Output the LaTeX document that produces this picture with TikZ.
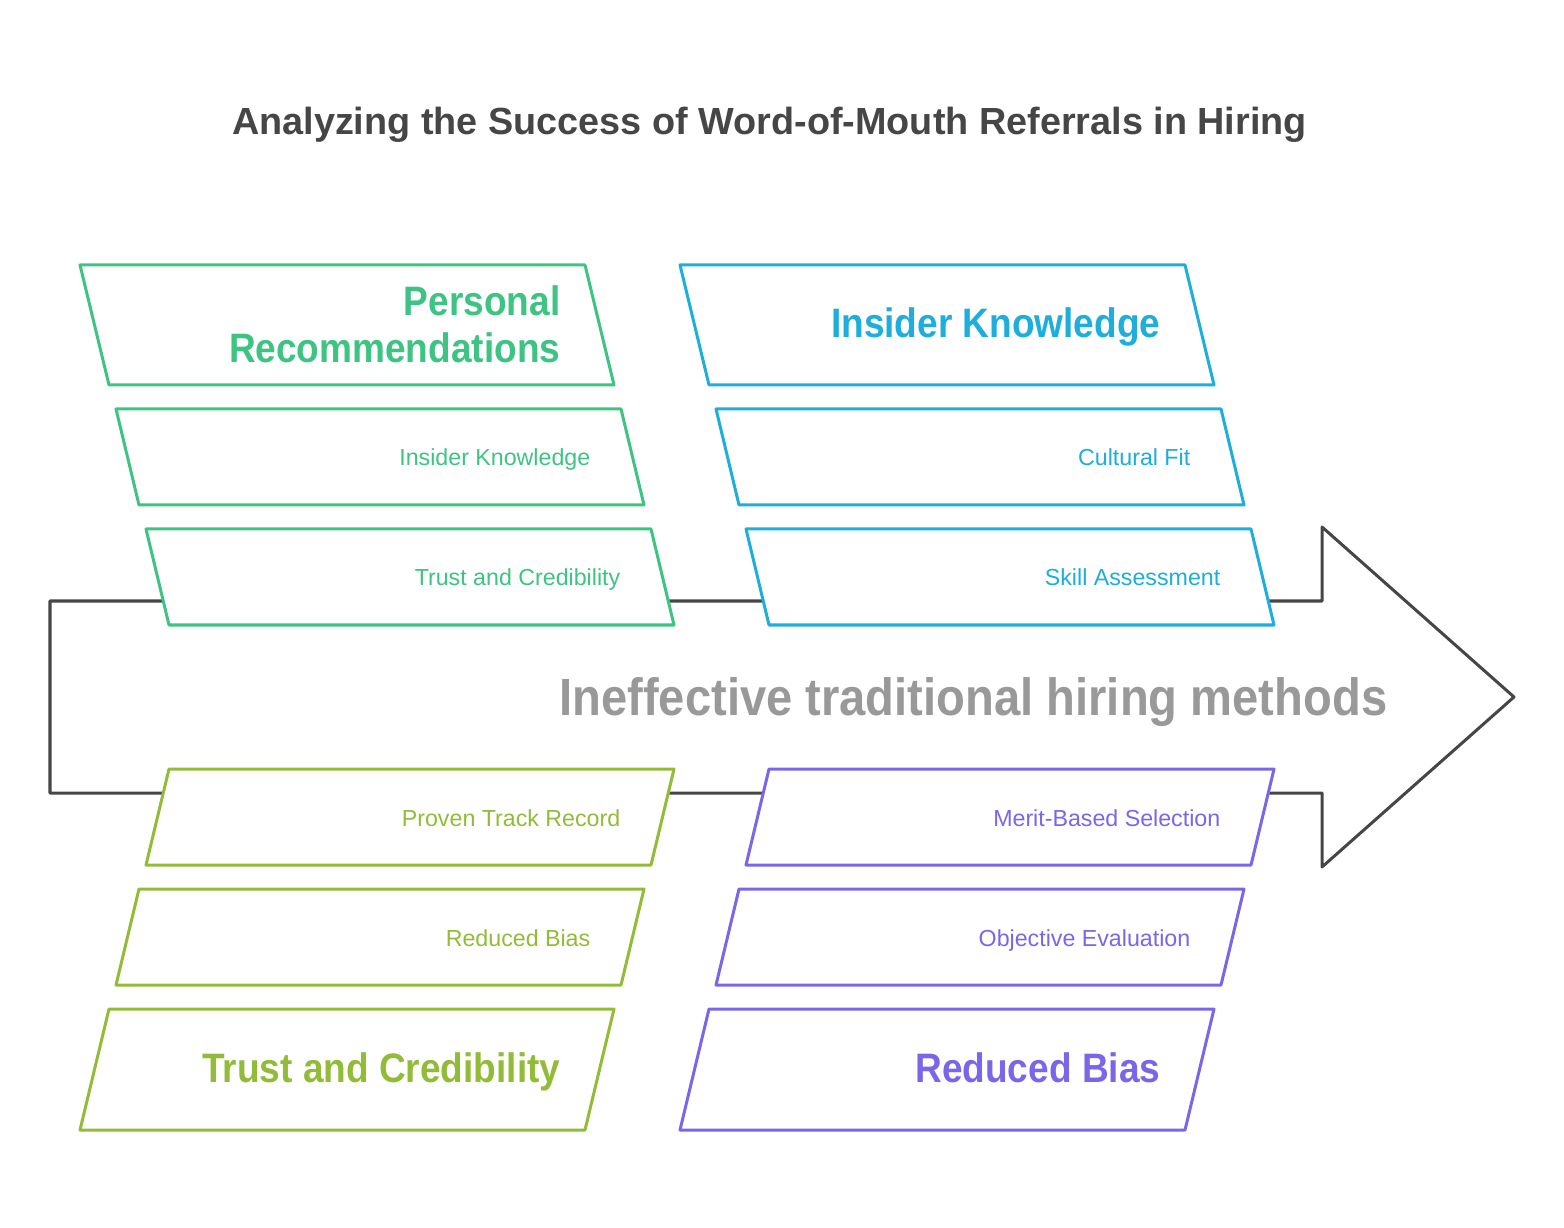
\documentclass[tikz,border=0pt]{standalone}
\usepackage{fontspec}
\setmainfont{Liberation Sans}
\newfontfamily\headfont[FakeStretch=0.9]{Liberation Sans}
\usetikzlibrary{positioning}
\definecolor{leafgreen}{RGB}{61,196,130}
\definecolor{skyblue}{RGB}{30,174,219}
\definecolor{olivegreen}{RGB}{146,188,55}
\definecolor{lavender}{RGB}{123,102,232}
\definecolor{darkline}{RGB}{70,70,70}
\definecolor{midgray}{RGB}{153,153,153}

\begin{document}
\begin{tikzpicture}[x=0.01cm, y=-0.01cm,
    pbox/.style={line width=0.03cm, fill=white, line join=round},
    head/.style={font=\headfont\bfseries\fontsize{11.7}{13.4}\selectfont, inner sep=0pt, align=right},
    item/.style={font=\fontsize{6.6}{8}\selectfont, inner sep=0pt}
  ]
    \useasboundingbox (0,0) rectangle (1564,1228);

    \node[font=\bfseries\fontsize{10.75}{13}\selectfont, text=darkline, inner sep=0pt, anchor=base] (title) at (769.5,135) {Analyzing the Success of Word-of-Mouth Referrals in Hiring};

    % big arrow
    \draw[darkline, line width=0.03cm, line join=round] (50,601) -- (1322,601) -- (1322,527) -- (1514,697) -- (1322,867) -- (1322,793) -- (50,793) -- cycle;
    \node[font=\headfont\bfseries\fontsize{14.9}{17}\selectfont, text=midgray, inner sep=0pt, anchor=base east] (core) at (1388,715) {Ineffective traditional hiring methods};

    % upper left
    \draw[pbox, draw=leafgreen] (80,265) -- (585,265) -- (614,385) -- (109,385) -- cycle;
    \draw[pbox, draw=leafgreen] (116,409) -- (621,409) -- (644,505) -- (139,505) -- cycle;
    \draw[pbox, draw=leafgreen] (146,529) -- (651,529) -- (674,625) -- (169,625) -- cycle;
    \node[head, text=leafgreen, anchor=east] (recs) at (561,324) {Personal\\Recommendations};
    \node[item, text=leafgreen, anchor=base east] (insider1) at (591,466) {Insider Knowledge};
    \node[item, text=leafgreen, anchor=base east] (trust1) at (621,586) {Trust and Credibility};

    % upper right
    \draw[pbox, draw=skyblue] (680,265) -- (1185,265) -- (1214,385) -- (709,385) -- cycle;
    \draw[pbox, draw=skyblue] (716,409) -- (1221,409) -- (1244,505) -- (739,505) -- cycle;
    \draw[pbox, draw=skyblue] (746,529) -- (1251,529) -- (1274,625) -- (769,625) -- cycle;
    \node[head, text=skyblue, anchor=base east] (insider) at (1161,338) {Insider Knowledge};
    \node[item, text=skyblue, anchor=base east] (fit) at (1191,466) {Cultural Fit};
    \node[item, text=skyblue, anchor=base east] (skill) at (1221,586) {Skill Assessment};

    % lower left
    \draw[pbox, draw=olivegreen] (169,769) -- (674,769) -- (651,865) -- (146,865) -- cycle;
    \draw[pbox, draw=olivegreen] (139,889) -- (644,889) -- (621,985) -- (116,985) -- cycle;
    \draw[pbox, draw=olivegreen] (109,1009) -- (614,1009) -- (585,1130) -- (80,1130) -- cycle;
    \node[item, text=olivegreen, anchor=base east] (record) at (621,826) {Proven Track Record};
    \node[item, text=olivegreen, anchor=base east] (bias1) at (591,946) {Reduced Bias};
    \node[head, text=olivegreen, anchor=base east] (trust) at (561,1082) {Trust and Credibility};

    % lower right
    \draw[pbox, draw=lavender] (769,769) -- (1274,769) -- (1251,865) -- (746,865) -- cycle;
    \draw[pbox, draw=lavender] (739,889) -- (1244,889) -- (1221,985) -- (716,985) -- cycle;
    \draw[pbox, draw=lavender] (709,1009) -- (1214,1009) -- (1185,1130) -- (680,1130) -- cycle;
    \node[item, text=lavender, anchor=base east] (merit) at (1221,826) {Merit-Based Selection};
    \node[item, text=lavender, anchor=base east] (objective) at (1191,946) {Objective Evaluation};
    \node[head, text=lavender, anchor=base east] (bias) at (1161,1082) {Reduced Bias};
  \end{tikzpicture}
\end{document}
